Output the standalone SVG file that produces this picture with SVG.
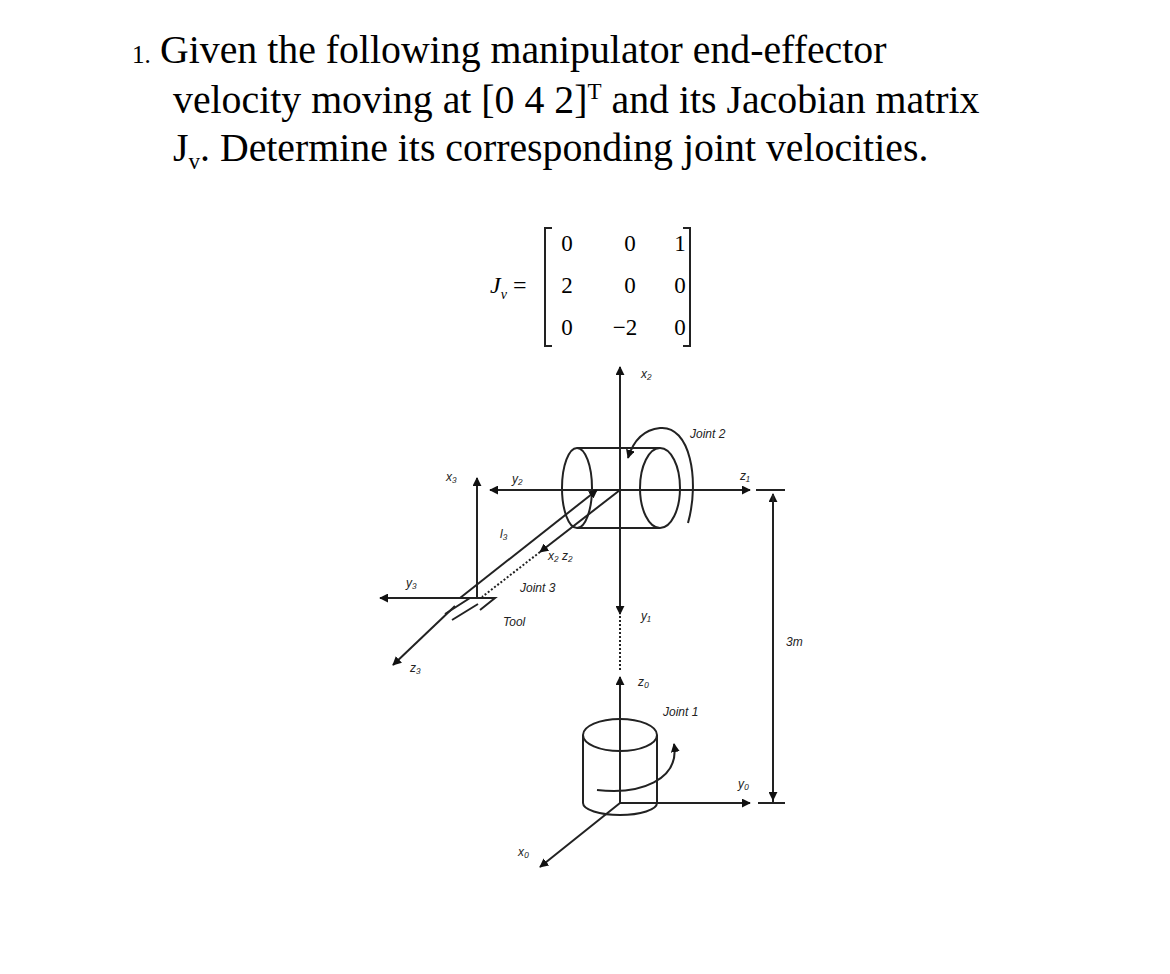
<svg xmlns="http://www.w3.org/2000/svg" width="1170" height="974" viewBox="0 0 1170 974">
<defs>
<marker id="a" viewBox="0 0 10 10" refX="9" refY="5" markerWidth="9" markerHeight="9" markerUnits="userSpaceOnUse" orient="auto"><path d="M0,0 L10,5 L0,10 z" fill="#111"/></marker>
<style>
.t{font-family:"Liberation Serif",serif;fill:#000}
.l{font-family:"Liberation Sans",sans-serif;font-size:12px;font-style:italic;fill:#222}
.s{stroke:#222;stroke-width:2;fill:none}
.d{stroke:#222;stroke-width:2;fill:none;stroke-dasharray:2 2}
.m{font-family:"Liberation Serif",serif;font-size:23px;text-anchor:middle}
</style>
</defs>
<rect width="1170" height="974" fill="#fff"/>
<g id="title">
<text class="t" x="132" y="63" font-size="25">1.</text>
<text class="t" x="160" y="63" font-size="39.8">Given the following manipulator end-effector</text>
<text class="t" x="173" y="113" font-size="39.8">velocity moving at [0 4 2]<tspan font-size="23" dy="-14">T</tspan><tspan dy="14"> and its Jacobian matrix</tspan></text>
<text class="t" x="173" y="161" font-size="39.8">J<tspan font-size="23" dy="8">v</tspan><tspan dy="-8">. Determine its corresponding joint velocities.</tspan></text>
</g>
<g id="matrix">
<text class="t" x="490" y="293" font-size="24" font-style="italic">J<tspan font-size="14" dy="6">v</tspan><tspan dy="-6" font-style="normal"> =</tspan></text>
<path class="s" d="M552,228 H545 V346 H552 M683,228 H690 V346 H683" stroke-width="1.5"/>
<text class="m" x="567" y="251">0</text><text class="m" x="630" y="251">0</text><text class="m" x="680" y="251">1</text>
<text class="m" x="567" y="293">2</text><text class="m" x="630" y="293">0</text><text class="m" x="680" y="293">0</text>
<text class="m" x="567" y="335">0</text><text class="m" x="625" y="335">−2</text><text class="m" x="680" y="335">0</text>
</g>
<g id="joint2">
<path class="s" d="M577,448 H660 M577,528 H660" stroke-width="1.5"/>
<ellipse class="s" cx="577" cy="488" rx="15" ry="40" stroke-width="1.5"/>
<ellipse class="s" cx="660" cy="488" rx="20" ry="40" stroke-width="1.5"/>
<path class="s" d="M688,523 C700,480 690,425 660,428 C640,430 632,445 628,458" marker-end="url(#a)"/>
<text class="l" x="690" y="438">Joint 2</text>
</g>
<g id="joint1">
<path class="s" d="M583,735 V803 A37,12 0 0 0 657,803 V735" stroke-width="1.5"/>
<ellipse class="s" cx="620" cy="735" rx="37" ry="16" stroke-width="1.5"/>
<path class="s" d="M597,790 C640,795 680,780 674,744" marker-end="url(#a)" stroke-width="1.5"/>
<text class="l" x="663" y="716">Joint 1</text>
</g>
<g id="tool">
<path class="s" d="M445,614 L470,598 H495 L480,610"/>
<path class="s" d="M452,620 L478,604"/>
<text class="l" x="503" y="626">Tool</text>
<text class="l" x="520" y="592">Joint 3</text>
<text class="l" x="500" y="538">l₃</text>
</g>
<g id="connectors">
<path class="s" d="M620,490 V367" marker-end="url(#a)"/>
<path class="s" d="M620,490 V614" marker-end="url(#a)"/>
<path class="d" d="M620,616 V672"/>
<path class="s" d="M620,803 V677" marker-end="url(#a)"/>
<path class="s" d="M620,490 H750" marker-end="url(#a)"/>
<path class="s" d="M620,490 H490" marker-end="url(#a)"/>
<path class="s" d="M756,490 H785 M758,803 H785"/>
<path class="s" d="M773,803 V494" marker-end="url(#a)"/>
<path class="s" d="M773,494 V800" marker-end="url(#a)"/>
<path class="s" d="M460,598 L597,490" marker-end="url(#a)"/>
<path class="s" d="M620,490 L540,552" marker-end="url(#a)"/>
<path class="d" d="M540,552 L482,597" stroke-width="1.2"/>
<path class="s" d="M455,606 L393,665" marker-end="url(#a)"/>
<path class="s" d="M477,598 V478" marker-end="url(#a)"/>
<path class="s" d="M477,598 H380" marker-end="url(#a)"/>
<path class="s" d="M620,803 H750" marker-end="url(#a)"/>
<path class="s" d="M620,803 L540,867" marker-end="url(#a)"/>
</g>
<g id="labels">
<text class="l" x="641" y="378">x₂</text>
<text class="l" x="740" y="480">z₁</text>
<text class="l" x="512" y="483">y₂</text>
<text class="l" x="446" y="481">x₃</text>
<text class="l" x="548" y="560">x₂ z₂</text>
<text class="l" x="406" y="587">y₃</text>
<text class="l" x="410" y="672">z₃</text>
<text class="l" x="641" y="620">y₁</text>
<text class="l" x="786" y="646">3m</text>
<text class="l" x="638" y="686">z₀</text>
<text class="l" x="738" y="788">y₀</text>
<text class="l" x="518" y="856">x₀</text>
</g>
</svg>
